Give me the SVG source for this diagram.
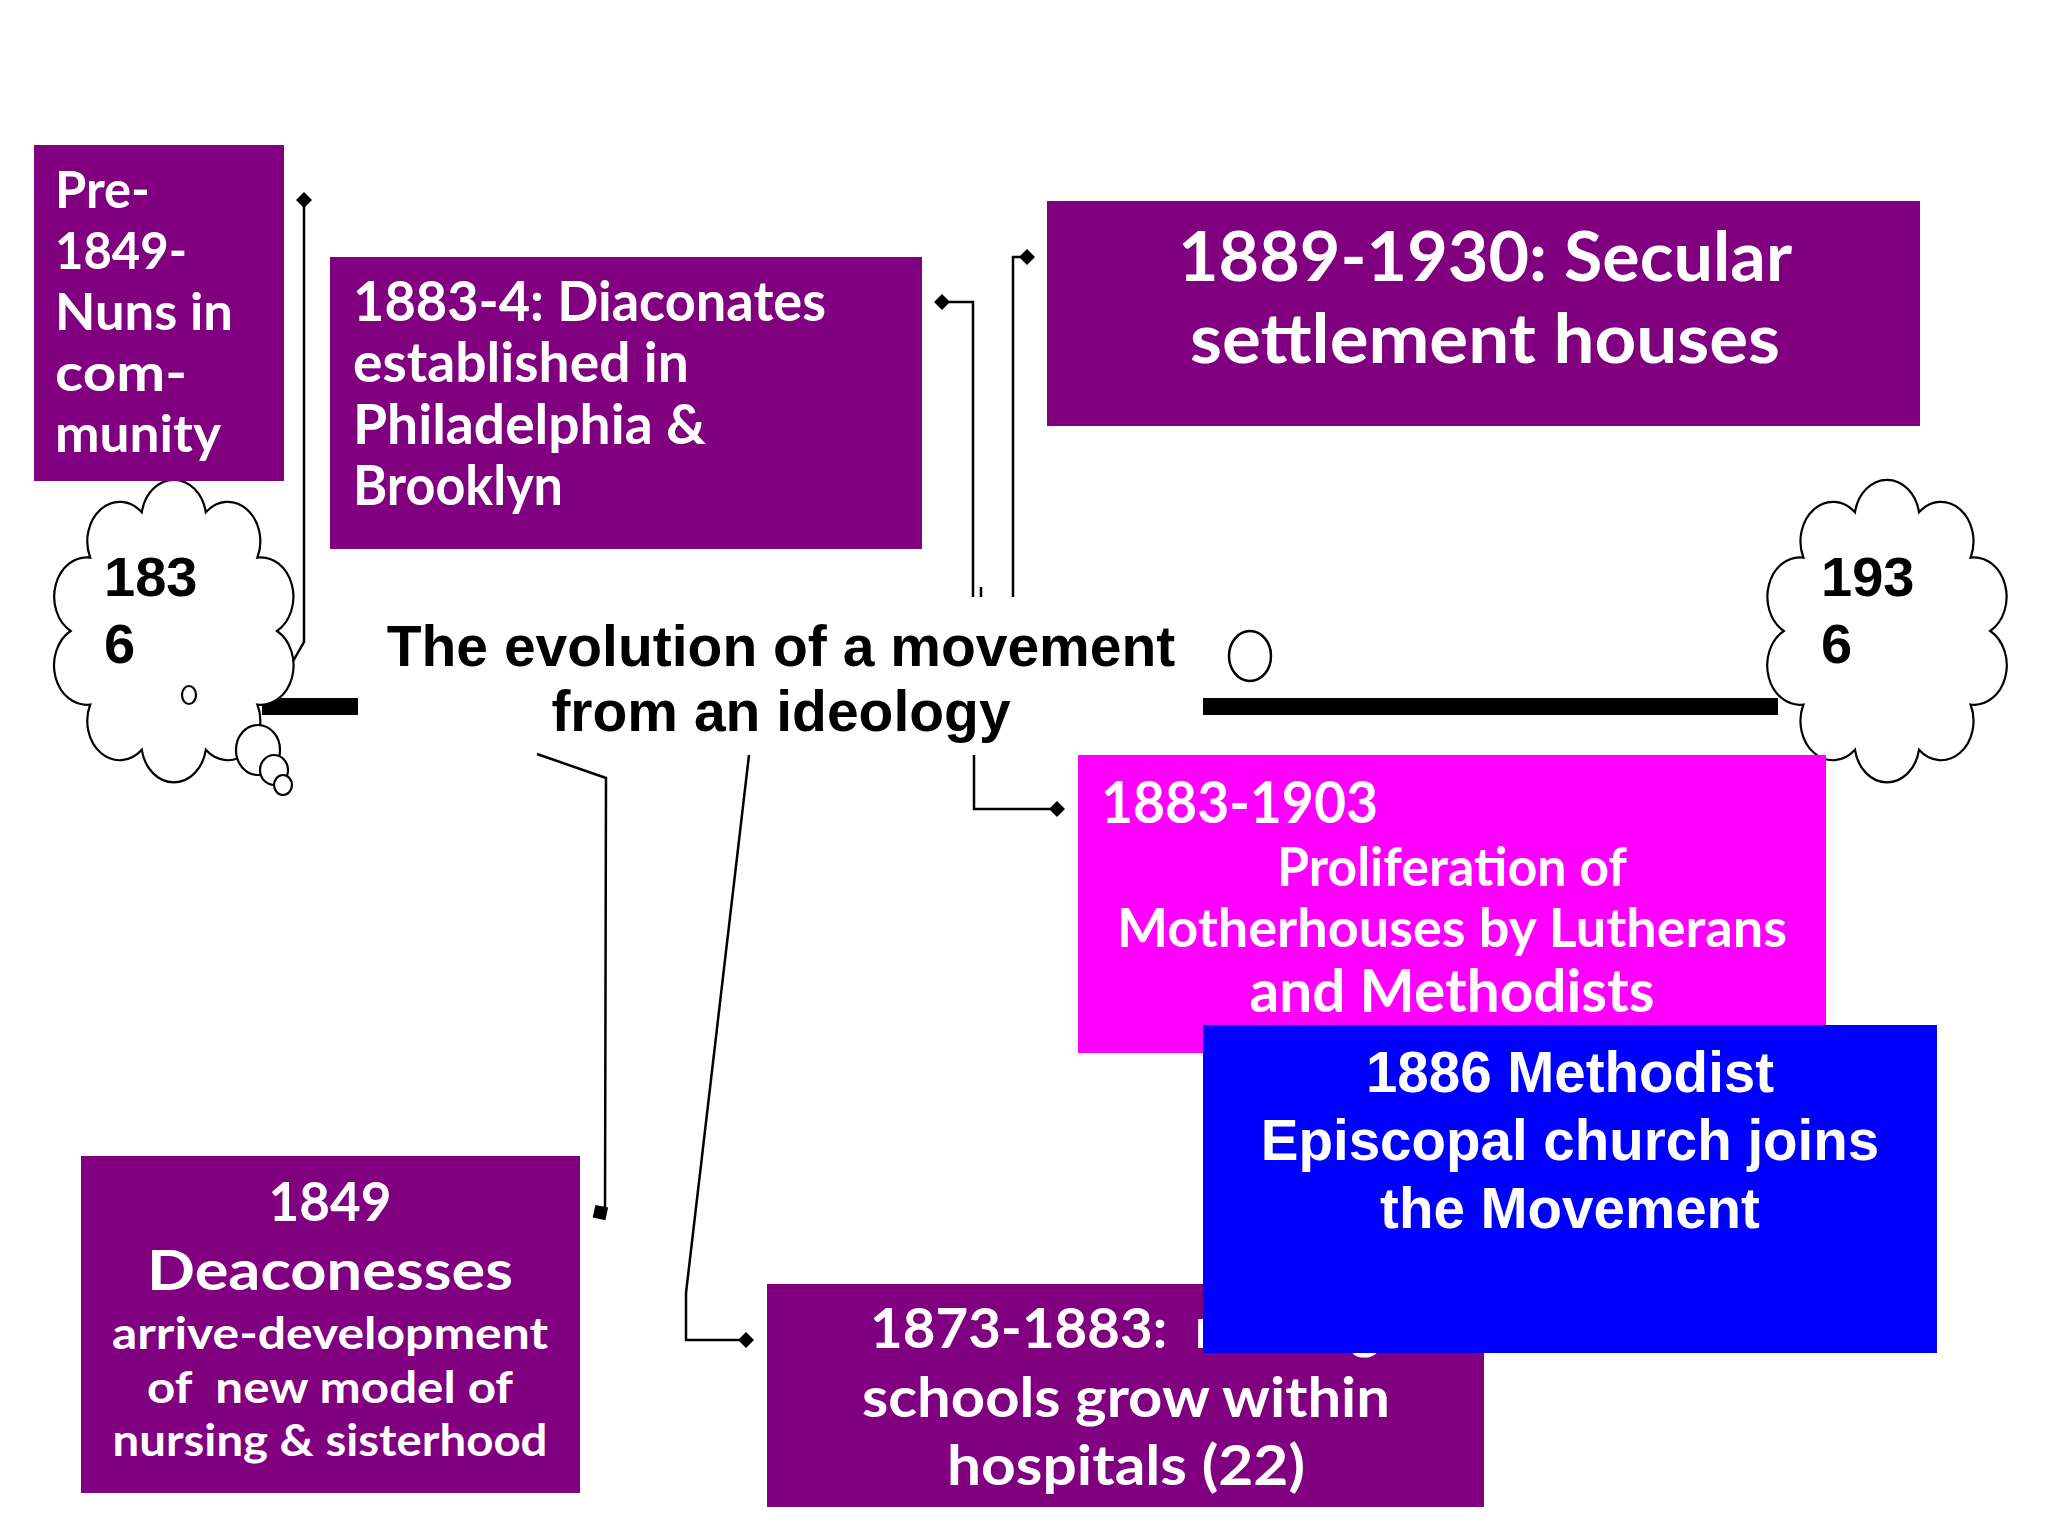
<svg xmlns="http://www.w3.org/2000/svg" xmlns:xlink="http://www.w3.org/1999/xlink" width="2048" height="1536" viewBox="0 0 2048 1536">
<style>
.box{fill:#800080}
.mag{fill:#FF00FF}
.blue{fill:#0000FF}
.cg{font-family:Lato,"Noto Sans","DejaVu Sans",sans-serif;font-weight:700;fill:#fff}
.ar{font-family:"Liberation Sans",Arial,sans-serif;font-weight:700}
.wt{fill:#fff}
.bk{fill:#000}
.conn{fill:none;stroke:#000;stroke-width:2.5}
.cloud{fill:#fff;stroke:#000;stroke-width:2.2}
.bar{fill:#000}
</style>
<defs>
<path id="dia" d="M0,-8 L8,0 L0,8 L-8,0 Z" fill="#000"/>
</defs>
<rect width="2048" height="1536" fill="#fff"/>

<g id="timeline-bars">
<rect class="bar" x="262" y="698" width="96" height="17"/>
<rect class="bar" x="1203" y="698" width="575" height="17"/>
</g>

<g id="connectors">
<polyline class="conn" points="304,200 304,642 272,698"/>
<use xlink:href="#dia" x="304" y="200"/>
<polyline class="conn" points="942,302 973,302 973,597"/>
<use xlink:href="#dia" x="942" y="302"/>
<line class="conn" x1="981" y1="587" x2="981" y2="597"/>
<polyline class="conn" points="1027,257 1013,257 1013,597"/>
<use xlink:href="#dia" x="1027" y="257"/>
<polyline class="conn" points="974,755 974,809 1057,809"/>
<use xlink:href="#dia" x="1057" y="809"/>
<polyline class="conn" points="537,754 606,778 605,1212"/>
<rect x="594" y="1206" width="13" height="13" fill="#000" transform="rotate(12 600 1212)"/>
<polyline class="conn" points="749,755 686,1293 686,1340 746,1340"/>
<use xlink:href="#dia" x="746" y="1340"/>
</g>

<g id="cloud-1836">
<path class="cloud" d="M277,631 A32.5,39.4 0 0 1 257.4,704.5 A32.5,39.4 0 0 1 205.8,749.8 A32.5,39.4 0 0 1 141.8,749.8 A32.5,39.4 0 0 1 90.2,704.5 A32.5,39.4 0 0 1 70.6,631 A32.5,39.4 0 0 1 90.2,557.6 A32.5,39.4 0 0 1 141.8,512.3 A32.5,39.4 0 0 1 205.8,512.3 A32.5,39.4 0 0 1 257.4,557.6 A32.5,39.4 0 0 1 277,631 Z"/>
<ellipse class="cloud" cx="189" cy="695" rx="7" ry="9"/>
<ellipse class="cloud" cx="258" cy="750" rx="22" ry="25"/>
<ellipse class="cloud" cx="274" cy="770" rx="14" ry="15"/>
<ellipse class="cloud" cx="283" cy="785" rx="9" ry="10"/>
<text class="ar bk" font-size="56" x="104" y="596">183</text>
<text class="ar bk" font-size="56" x="104" y="663">6</text>
</g>

<g id="cloud-1936">
<path class="cloud" d="M1990.2,631 A32.5,39.4 0 0 1 1970.6,704.5 A32.5,39.4 0 0 1 1919,749.8 A32.5,39.4 0 0 1 1855,749.8 A32.5,39.4 0 0 1 1803.4,704.5 A32.5,39.4 0 0 1 1783.8,631 A32.5,39.4 0 0 1 1803.4,557.6 A32.5,39.4 0 0 1 1855,512.3 A32.5,39.4 0 0 1 1919,512.3 A32.5,39.4 0 0 1 1970.6,557.6 A32.5,39.4 0 0 1 1990.2,631 Z"/>
<text class="ar bk" font-size="56" x="1821" y="596">193</text>
<text class="ar bk" font-size="56" x="1821" y="663">6</text>
</g>

<g id="title">
<text class="ar bk" font-size="57" text-anchor="middle" x="781" y="666">The evolution of a movement</text>
<text class="ar bk" font-size="57" text-anchor="middle" x="781" y="731">from an ideology</text>
</g>
<ellipse id="small-oval" cx="1250" cy="656" rx="21" ry="25" fill="#fff" stroke="#000" stroke-width="2.5"/>

<g id="node-pre1849">
<rect class="box" x="34" y="145" width="250" height="336"/>
<text class="cg" font-size="52" x="55" y="208" textLength="95" lengthAdjust="spacingAndGlyphs">Pre-</text>
<text class="cg" font-size="52" x="55" y="269" textLength="132" lengthAdjust="spacingAndGlyphs">1849-</text>
<text class="cg" font-size="52" x="55" y="330" textLength="178" lengthAdjust="spacingAndGlyphs">Nuns in</text>
<text class="cg" font-size="52" x="55" y="391" textLength="132" lengthAdjust="spacingAndGlyphs">com-</text>
<text class="cg" font-size="52" x="55" y="452" textLength="166" lengthAdjust="spacingAndGlyphs">munity</text>
</g>

<g id="node-1883-4">
<rect class="box" x="330" y="257" width="592" height="292"/>
<text class="cg" font-size="55" x="353" y="321" textLength="473" lengthAdjust="spacingAndGlyphs">1883-4: Diaconates</text>
<text class="cg" font-size="55" x="353" y="382" textLength="336" lengthAdjust="spacingAndGlyphs">established in</text>
<text class="cg" font-size="55" x="353" y="444" textLength="353" lengthAdjust="spacingAndGlyphs">Philadelphia &amp;</text>
<text class="cg" font-size="55" x="353" y="505" textLength="210" lengthAdjust="spacingAndGlyphs">Brooklyn</text>
</g>

<g id="node-1889-1930">
<rect class="box" x="1047" y="201" width="873" height="225"/>
<text class="cg" font-size="68" text-anchor="middle" x="1485" y="281" textLength="614" lengthAdjust="spacingAndGlyphs">1889-1930: Secular</text>
<text class="cg" font-size="68" text-anchor="middle" x="1485" y="363" textLength="590" lengthAdjust="spacingAndGlyphs">settlement houses</text>
</g>

<g id="node-1883-1903">
<rect class="mag" x="1078" y="755" width="748" height="298"/>
<text class="cg" font-size="57" x="1101" y="823" textLength="277" lengthAdjust="spacingAndGlyphs">1883-1903</text>
<text class="cg" font-size="54" text-anchor="middle" x="1452" y="886" textLength="350" lengthAdjust="spacingAndGlyphs">Proliferation of</text>
<text class="cg" font-size="54" text-anchor="middle" x="1452" y="947" textLength="670" lengthAdjust="spacingAndGlyphs">Motherhouses by Lutherans</text>
<text class="cg" font-size="59" text-anchor="middle" x="1452" y="1012" textLength="405" lengthAdjust="spacingAndGlyphs">and Methodists</text>
</g>

<g id="node-1849">
<rect class="box" x="81" y="1156" width="499" height="337"/>
<text class="cg" font-size="54" text-anchor="middle" x="330" y="1221" textLength="123" lengthAdjust="spacingAndGlyphs">1849</text>
<text class="cg" font-size="56" text-anchor="middle" x="330" y="1290" textLength="366" lengthAdjust="spacingAndGlyphs">Deaconesses</text>
<text class="cg" font-size="44" text-anchor="middle" x="330" y="1349" textLength="436" lengthAdjust="spacingAndGlyphs">arrive-development</text>
<text class="cg" font-size="44" text-anchor="middle" x="330" y="1403" textLength="366" lengthAdjust="spacingAndGlyphs" xml:space="preserve">of  new model of</text>
<text class="cg" font-size="44" text-anchor="middle" x="330" y="1456" textLength="435" lengthAdjust="spacingAndGlyphs">nursing &amp; sisterhood</text>
</g>

<g id="node-1873-1883">
<rect class="box" x="767" y="1284" width="717" height="223"/>
<text class="cg" font-size="55" x="870" y="1348" textLength="510" lengthAdjust="spacingAndGlyphs" xml:space="preserve">1873-1883:  nursing</text>
<text class="cg" font-size="55" text-anchor="middle" x="1126" y="1417" textLength="528" lengthAdjust="spacingAndGlyphs">schools grow within</text>
<text class="cg" font-size="55" text-anchor="middle" x="1126" y="1485" textLength="358" lengthAdjust="spacingAndGlyphs">hospitals (22)</text>
</g>

<g id="node-1886">
<rect class="blue" x="1203" y="1025" width="734" height="328"/>
<text class="ar wt" font-size="56.5" text-anchor="middle" x="1570" y="1092">1886 Methodist</text>
<text class="ar wt" font-size="56.5" text-anchor="middle" x="1570" y="1160">Episcopal church joins</text>
<text class="ar wt" font-size="56.5" text-anchor="middle" x="1570" y="1228">the Movement</text>
</g>
</svg>
